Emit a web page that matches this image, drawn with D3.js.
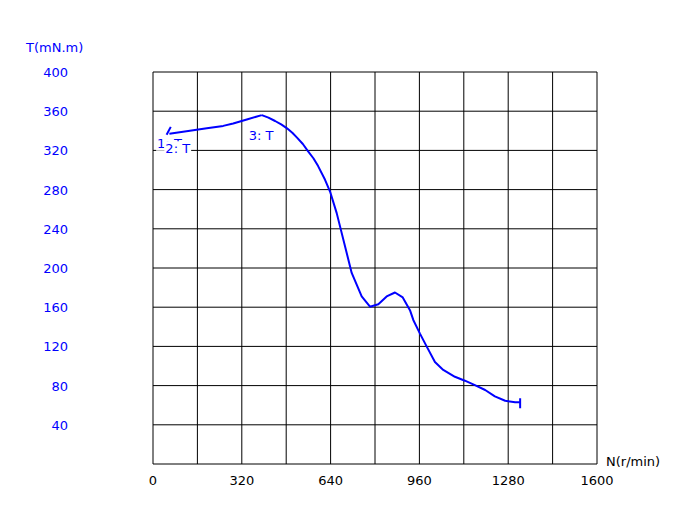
<!DOCTYPE html>
<html>
<head>
<meta charset="utf-8">
<script src="https://cdn.jsdelivr.net/npm/d3@7/dist/d3.min.js"></script>
<style>
  html, body { margin: 0; padding: 0; background: #fff; }
  svg { display: block; }
  text { font-family: "DejaVu Sans", Verdana, sans-serif; font-size: 13px; }
</style>
</head>
<body>
<svg id="chart" width="690" height="518"></svg>
<script>
// ---- data ----
const xTicks = [0, 320, 640, 960, 1280, 1600];
const xGrid = [0, 160, 320, 480, 640, 800, 960, 1120, 1280, 1440, 1600];
const yTicks = [40, 80, 120, 160, 200, 240, 280, 320, 360, 400];
const yGrid = [0, 40, 80, 120, 160, 200, 240, 280, 320, 360, 400];
const xTitle = "N(r/min)";
const yTitle = "T(mN.m)";

const series1N = [49, 64];
const series1T = [336, 344];

const series2N = [59, 133, 194, 253, 289, 338, 392];
const series2T = [337, 340, 342.5, 345, 347.5, 351.5, 356];

const series3N = [392, 416, 440, 462, 483, 502, 519, 540, 559, 578, 595, 620, 638, 662, 716, 752, 782, 812, 842, 872, 900, 926, 938, 962, 986, 1016, 1046, 1088, 1124, 1160, 1197, 1232, 1269, 1305, 1323];
const series3T = [356, 353.5, 350, 346.5, 342.5, 338, 333, 326.5, 319, 312, 304, 290, 278, 256, 195, 171, 160.5, 163, 171, 175, 170, 157, 147, 133, 120, 104, 96, 89, 85, 80.5, 75.5, 69, 64.5, 63, 63];

const seriesLabels = ["1: T", "2: T", "3: T"];

// ---- drawing ----
const svg = d3.select("#chart");
const x = d3.scaleLinear().domain([0, 1600]).range([153, 597]);
const y = d3.scaleLinear().domain([0, 400]).range([464, 72]);
const blue = "#0000ff";

const grid = svg.append("g").attr("stroke", "#000").attr("stroke-width", 1);
grid.selectAll("line.v").data(xGrid).join("line")
  .attr("class", "v")
  .attr("x1", d => x(d)).attr("x2", d => x(d))
  .attr("y1", y(400)).attr("y2", y(0));
grid.selectAll("line.h").data(yGrid).join("line")
  .attr("class", "h")
  .attr("x1", x(0)).attr("x2", x(1600))
  .attr("y1", d => y(d)).attr("y2", d => y(d));

// y tick labels
svg.append("g").selectAll("text").data(yTicks).join("text")
  .attr("x", 68).attr("y", d => y(d) + 5)
  .attr("text-anchor", "end").attr("fill", blue)
  .text(d => d);
svg.append("text").attr("x", 26).attr("y", 51.5).attr("fill", blue).text(yTitle);

// x tick labels
svg.append("g").selectAll("text").data(xTicks).join("text")
  .attr("x", d => x(d)).attr("y", 485)
  .attr("text-anchor", "middle").attr("fill", "#000")
  .text(d => d);
svg.append("text").attr("x", 606).attr("y", 466).attr("fill", "#000").text(xTitle);

// lines
const line = d3.line().x(d => x(d[0])).y(d => y(d[1]));
const s1 = series1N.map((n, i) => [n, series1T[i]]);
const s2 = series2N.map((n, i) => [n, series2T[i]]);
const s3 = series3N.map((n, i) => [n, series3T[i]]);

[s1, s2, s3].forEach(s => {
  svg.append("path").datum(s).attr("d", line)
    .attr("fill", "none").attr("stroke", blue).attr("stroke-width", 2)
    .attr("stroke-linejoin", "round");
});
// end tick
const last = s3[s3.length - 1];
svg.append("line")
  .attr("x1", x(last[0])).attr("x2", x(last[0]))
  .attr("y1", y(last[1]) - 4).attr("y2", y(last[1]) + 6)
  .attr("stroke", blue).attr("stroke-width", 2);

// series labels with white backgrounds (later ones drawn over earlier ones)
function label(txt, px, py) {
  const g = svg.append("g");
  const t = g.append("text").attr("x", px).attr("y", py).attr("fill", blue).text(txt);
  const bb = t.node().getBBox();
  g.insert("rect", "text")
    .attr("x", bb.x - 1).attr("y", bb.y).attr("width", bb.width + 2).attr("height", bb.height)
    .attr("fill", "#fff");
}
label(seriesLabels[0], x(s1[0][0]) - 9.5, y(s1[0][1]) + 13);
label(seriesLabels[1], x(s2[0][0]) - 4, y(s2[0][1]) + 19.5);
label(seriesLabels[2], x(s3[0][0]) - 13, y(s3[0][1]) + 24.5);
</script>
</body>
</html>
